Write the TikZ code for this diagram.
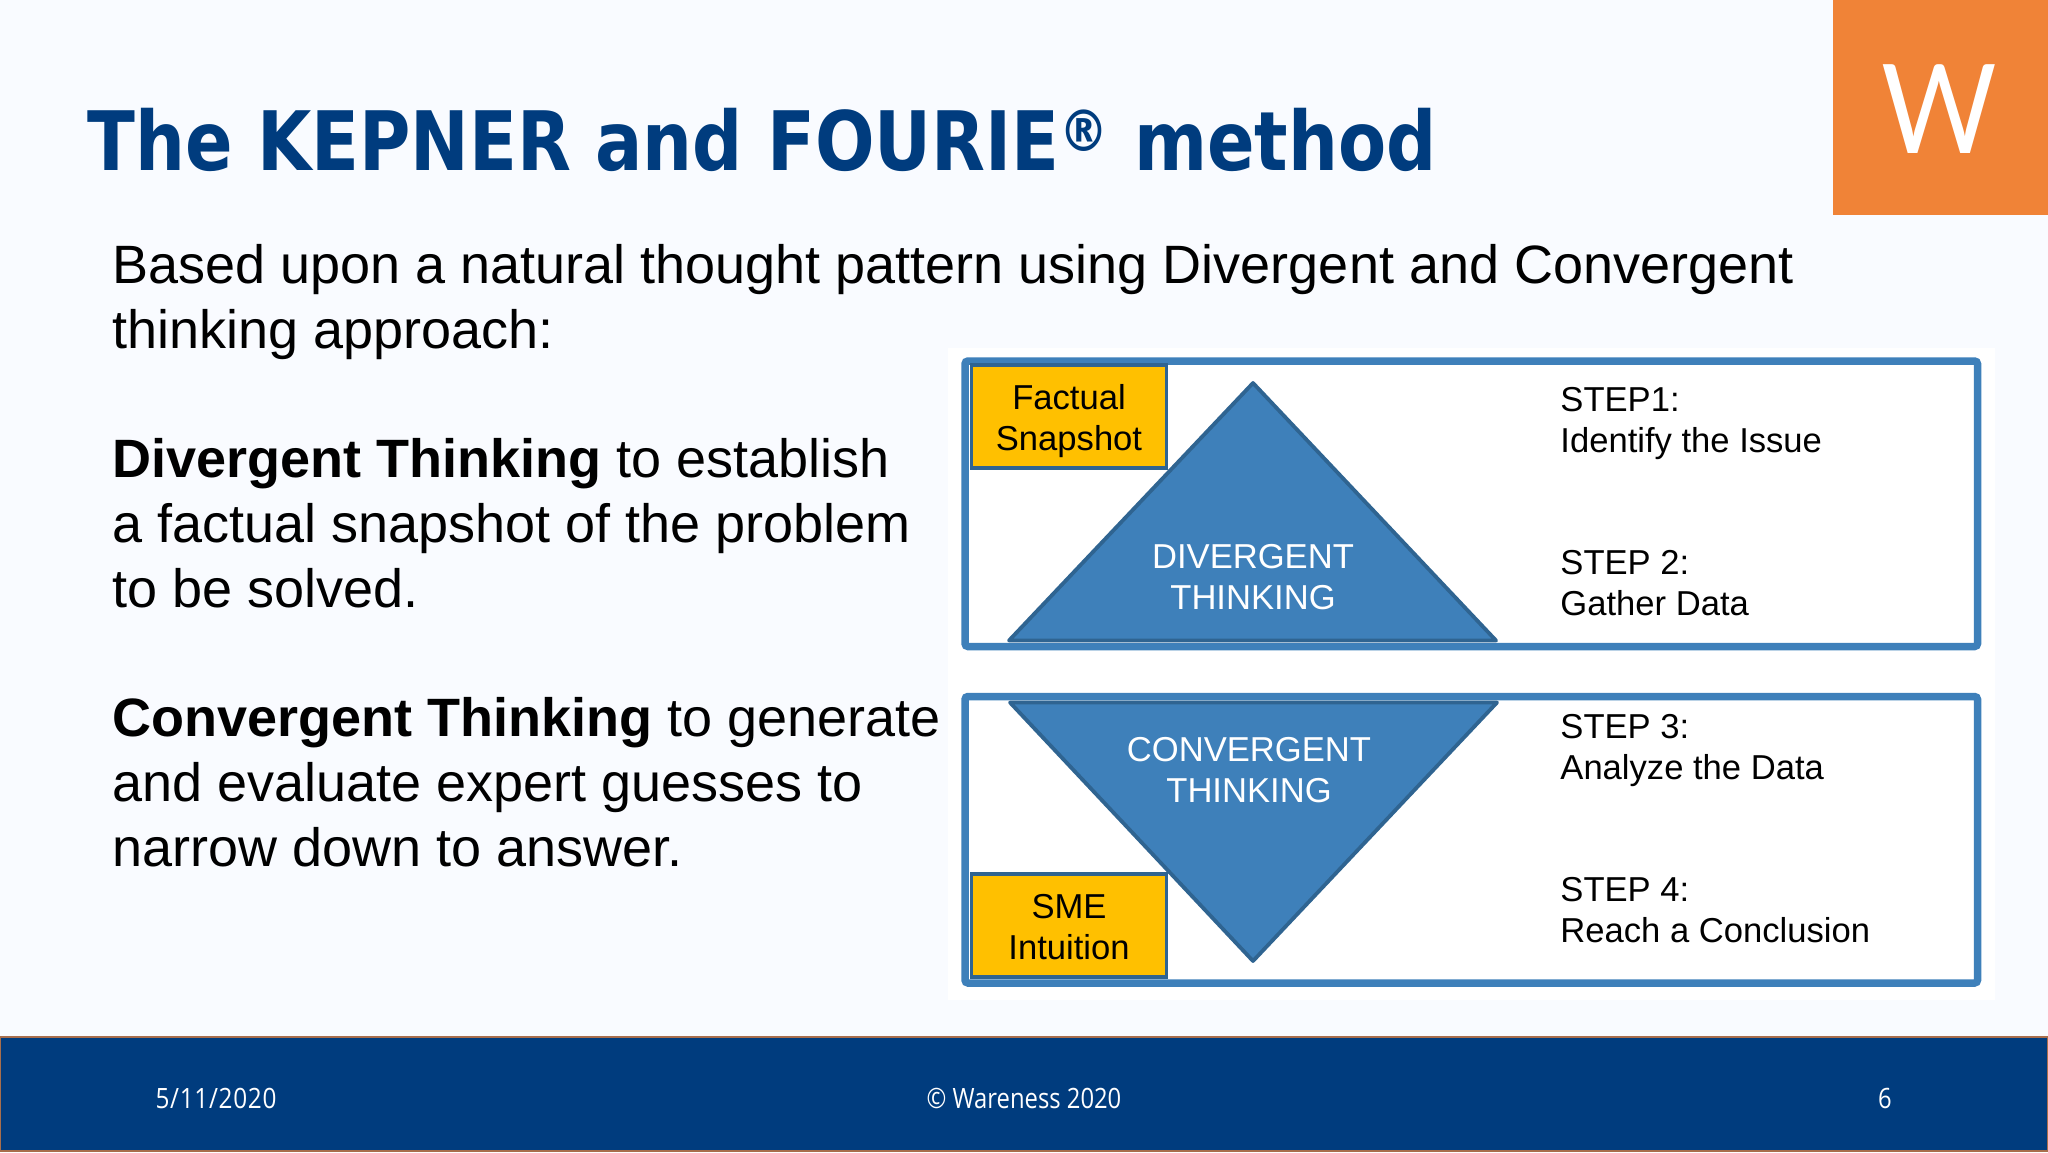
\documentclass[tikz,border=0pt]{standalone}
\usepackage{fontspec}
\setmainfont{Liberation Sans}
\newfontfamily\titlefont[FakeStretch=0.855]{DejaVu Sans}
\newfontfamily\footfont[FakeStretch=0.85]{Open Sans}
\newfontfamily\datefont[FakeStretch=0.87,LetterSpace=2.5]{Open Sans}
\newfontfamily\wfont[FakeStretch=0.9]{Lato}
\definecolor{pagebg}{HTML}{F9FBFF}
\definecolor{navy}{HTML}{003C7E}
\definecolor{tileorange}{HTML}{F08337}
\definecolor{boxblue}{HTML}{3E80BA}
\definecolor{tridark}{HTML}{2F6491}
\definecolor{snapyellow}{HTML}{FFC000}
\tikzset{
  yellowbox/.style={draw=tridark,line width=1.9pt,fill=snapyellow,inner sep=0pt,minimum width=97.5pt,minimum height=51.5pt},
  yellowlabel/.style={align=center,anchor=base,inner sep=0pt,font=\fontsize{17.3}{20.5}\selectfont},
  frame/.style={draw=boxblue,line width=3.75pt,rounded corners=1.5pt,fill=white},
  tri/.style={draw=tridark,line width=1.9pt,line join=round,fill=boxblue},
  trilabel/.style={text=white,align=center,anchor=base,inner sep=0pt,font=\fontsize{17.3}{20.5}\selectfont},
  steplabel/.style={align=left,anchor=base west,inner sep=0pt,font=\fontsize{17.3}{20.5}\selectfont},
  bodytext/.style={anchor=base west,align=left,inner sep=0pt,font=\fontsize{27}{32.45}\selectfont},
  foottext/.style={text=white,anchor=base,inner sep=0pt,font=\footfont\fontsize{14}{16}\selectfont}
}
\begin{document}
\begin{tikzpicture}[x=0.5pt,y=-0.5pt]
\useasboundingbox (0,0) rectangle (2048,1152);
\fill[pagebg] (0,0) rectangle (2048,1152);
% footer and tile
\fill[tileorange] (1833,0) rectangle (2048,215);
\node[text=white,inner sep=0pt,anchor=base,font=\wfont\fontsize{62}{62}\selectfont] (w) at (1939,153) {W};
\draw[draw=tileorange!70!navy,line width=0.6pt,fill=navy] (0,1037) rectangle (2048,1151);
\node[foottext,font=\datefont\fontsize{14}{16}\selectfont] (date) at (216,1108) {5/11/2020};
\node[foottext] (copy) at (1024,1108) {© Wareness 2020};
\node[foottext] (page) at (1885,1108) {6};
% title
\node[anchor=base west,inner sep=0pt,text=navy,font=\titlefont\bfseries\fontsize{41}{50}\selectfont] (title) at (87,170) {The KEPNER and FOURIE\textsuperscript{®} method};
% body
\node[bodytext] (intro) at (112,348.5) {Based upon a natural thought pattern using Divergent and Convergent\\thinking approach:};
\node[bodytext] (div) at (112,607.5) {\textbf{Divergent Thinking} to establish\\a factual snapshot of the problem\\to be solved.};
\node[bodytext] (conv) at (112,866.5) {\textbf{Convergent Thinking} to generate\\and evaluate expert guesses to\\narrow down to answer.};
% diagram panel
\fill[white] (948,348) rectangle (1995,1000);
\draw[frame] (965,361) rectangle (1977.5,646.5);
\draw[frame] (965,696.5) rectangle (1977.5,983);
\node[yellowbox] (snap) at (1069,416.5) {};
\node[yellowbox] (sme) at (1069,925.5) {};
\node[yellowlabel] (snapl) at (1069,450) {Factual\\Snapshot};
\node[yellowlabel] (smel) at (1069,959) {SME\\Intuition};
\draw[tri] (1253,383) -- (1496,640.5) -- (1009,640.5) -- cycle;
\draw[tri] (1253,961) -- (1497,702.5) -- (1010,702.5) -- cycle;
\node[trilabel] (divl) at (1253,609) {DIVERGENT\\THINKING};
\node[trilabel] (conl) at (1249,802) {CONVERGENT\\THINKING};
\node[steplabel] (s1) at (1560,452.5) {STEP1:\\Identify the Issue};
\node[steplabel] (s2) at (1560,615.5) {STEP 2:\\Gather Data};
\node[steplabel] (s3) at (1560,779.5) {STEP 3:\\Analyze the Data};
\node[steplabel] (s4) at (1560,942.5) {STEP 4:\\Reach a Conclusion};
\end{tikzpicture}
\end{document}
